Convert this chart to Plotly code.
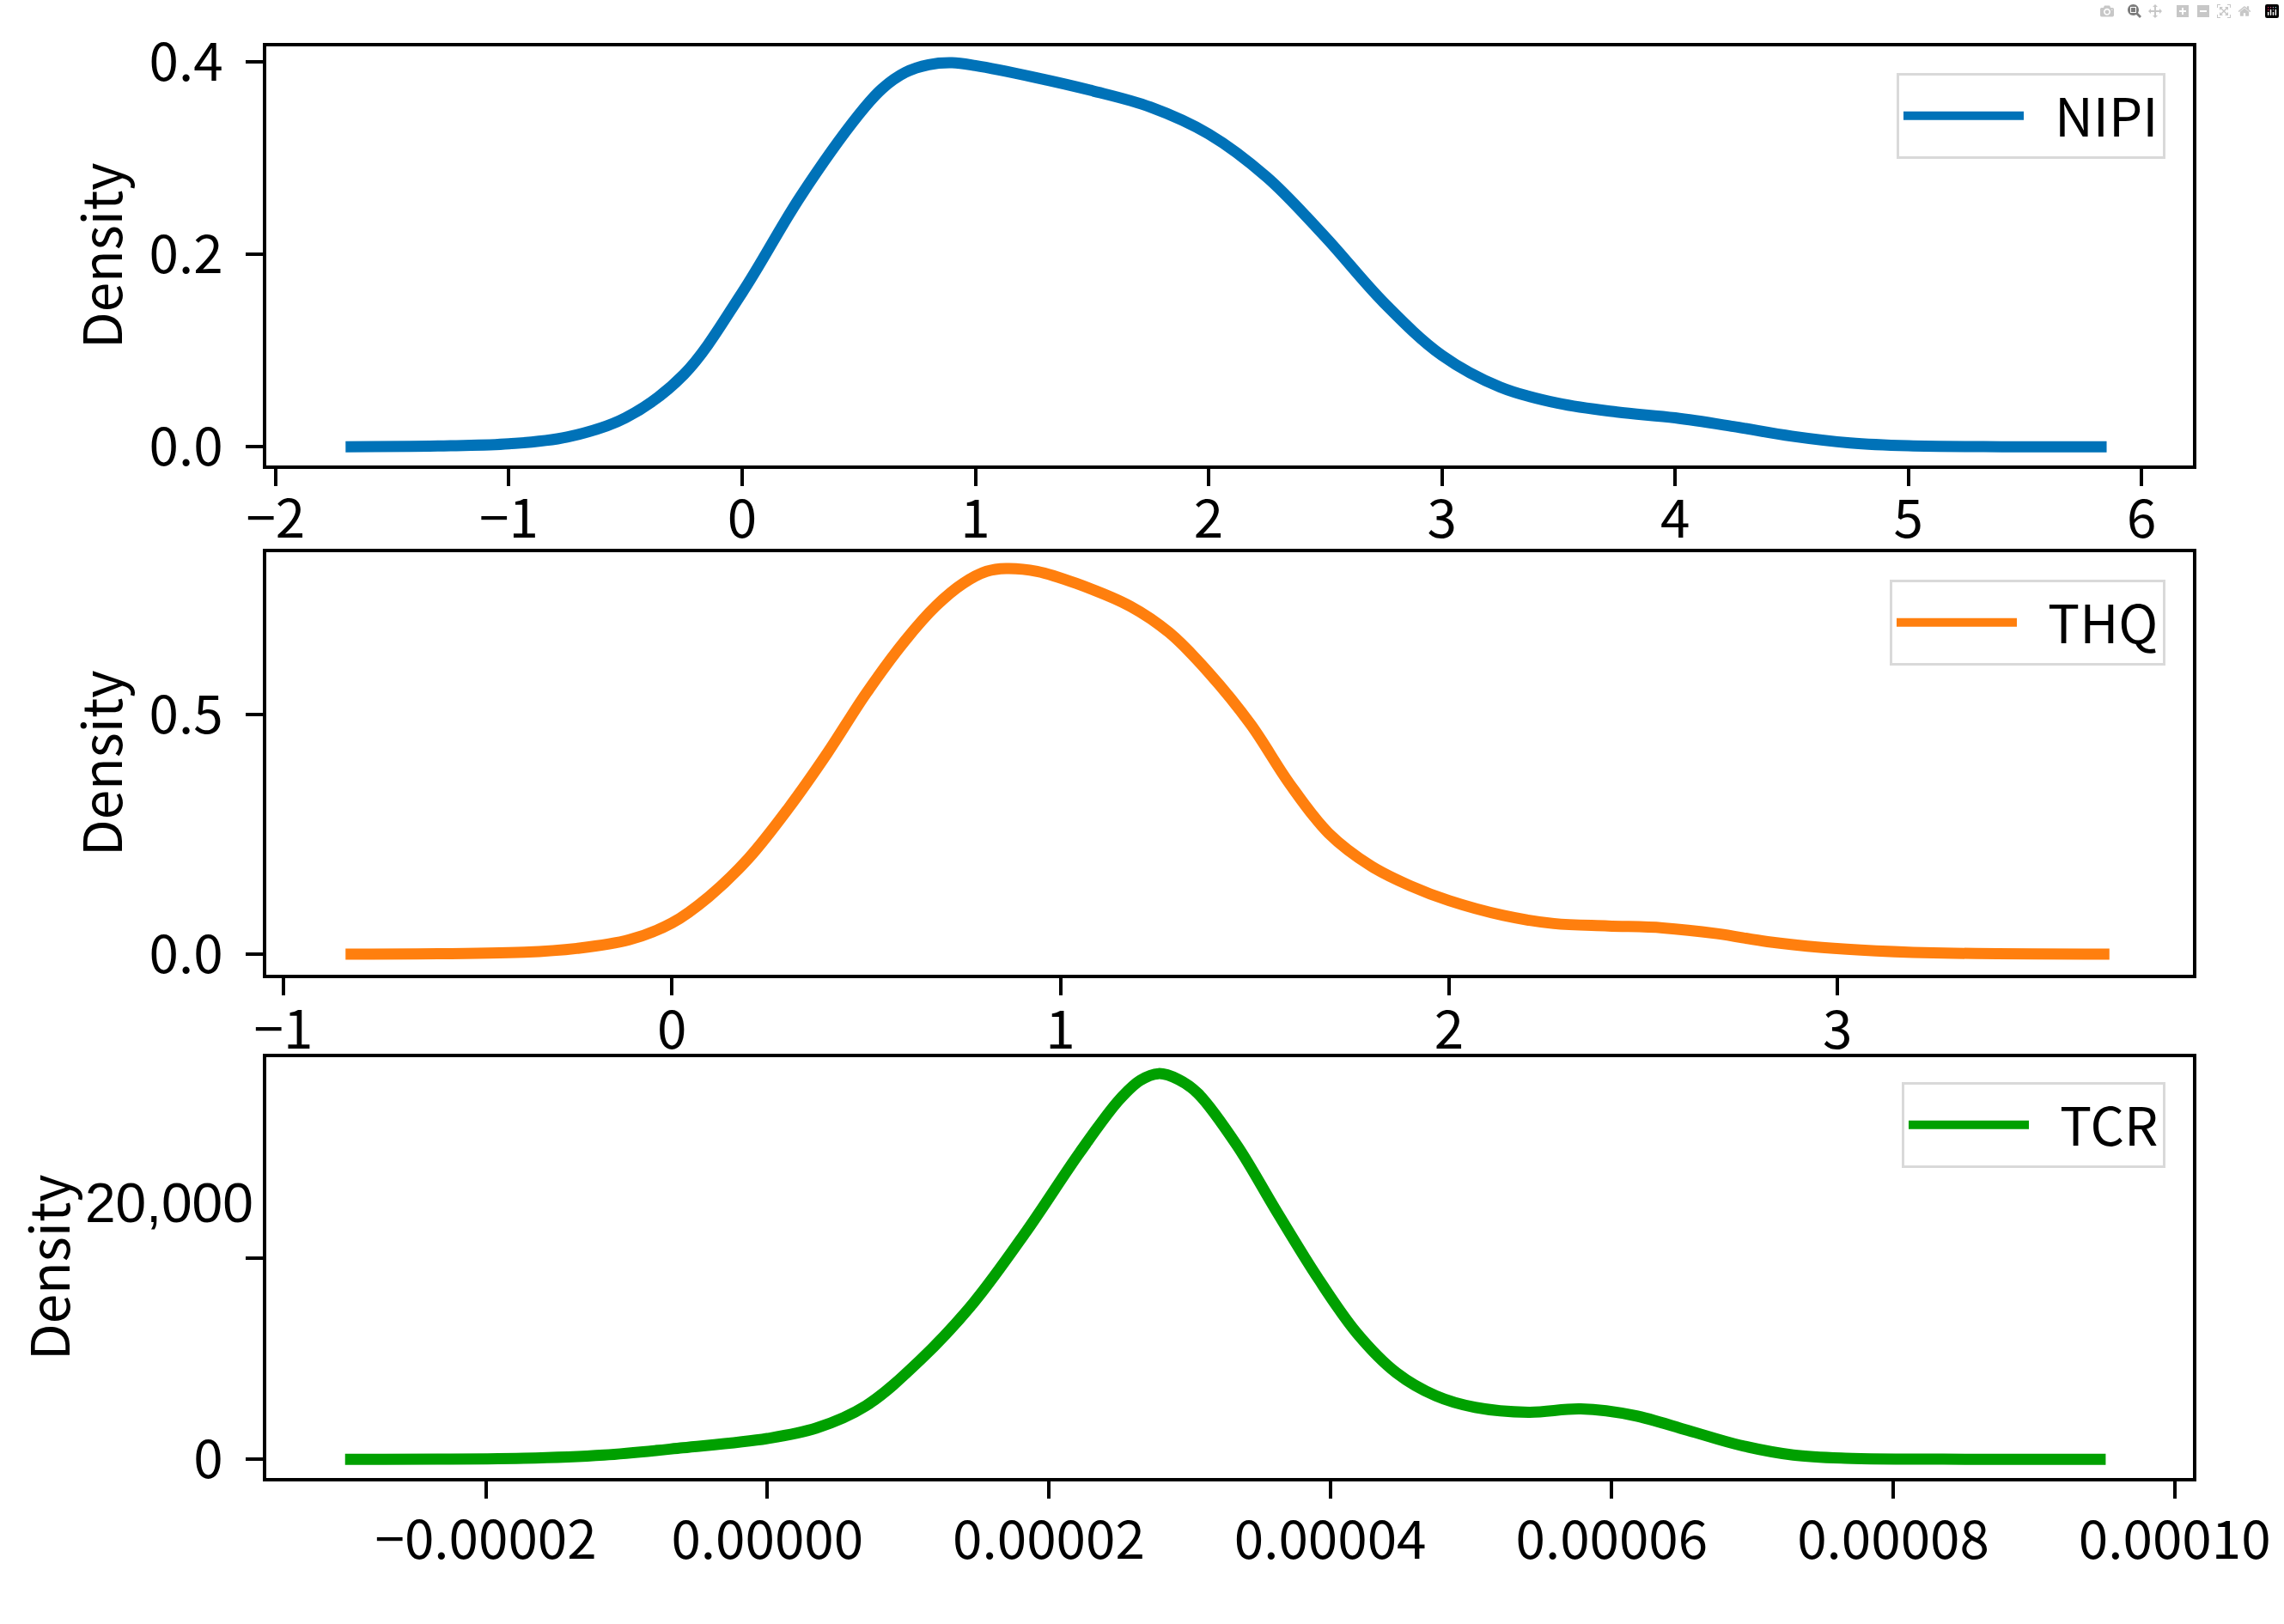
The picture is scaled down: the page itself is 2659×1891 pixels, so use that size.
import plotly.graph_objects as go

# kernel density curves
nipi_x = [-1.7, -1.25, -1.0, -0.75, -0.5, -0.25, 0.0, 0.25, 0.5, 0.6, 0.7, 0.8, 0.9, 1.0,
          1.25, 1.5, 1.75, 2.0, 2.25, 2.5, 2.75, 3.0, 3.25, 3.5, 3.75, 4.0, 4.25,
          4.5, 4.75, 5.0, 5.4, 5.85]
nipi_y = [0.0, 0.001, 0.003, 0.01, 0.03, 0.075, 0.16, 0.26, 0.345, 0.372, 0.389, 0.397, 0.399,
          0.396, 0.384, 0.37, 0.353, 0.325, 0.28, 0.218, 0.15, 0.095, 0.062, 0.045, 0.036,
          0.03, 0.021, 0.011, 0.004, 0.001, 0.0, 0.0]

thq_x = [-0.84, -0.38, -0.245, -0.11, 0.0, 0.095, 0.197, 0.3, 0.4, 0.5, 0.6, 0.68, 0.75,
         0.81, 0.86, 0.94, 1.04, 1.18, 1.28, 1.38, 1.49, 1.59, 1.69, 1.8, 1.9, 2.0, 2.14,
         2.27, 2.41, 2.55, 2.69, 2.82, 2.96, 3.1, 3.3, 3.7]
thq_y = [0.0, 0.004, 0.012, 0.03, 0.065, 0.12, 0.2, 0.305, 0.42, 0.545, 0.655, 0.728, 0.775,
         0.8, 0.806, 0.8, 0.775, 0.727, 0.672, 0.59, 0.48, 0.356, 0.253, 0.184, 0.143,
         0.112, 0.081, 0.064, 0.059, 0.055, 0.043, 0.026, 0.014, 0.007, 0.002, 0.0]

tcr_x = [-3.0e-5, -1.73e-5, -1.16e-5, -0.6e-5, 0.0, 0.35e-5, 0.7e-5, 1.09e-5, 1.46e-5,
         1.84e-5, 2.22e-5, 2.5e-5, 2.65e-5, 2.78e-5, 2.92e-5, 3.06e-5, 3.34e-5, 3.62e-5,
         3.91e-5, 4.19e-5, 4.47e-5, 4.75e-5, 5.03e-5, 5.41e-5, 5.78e-5, 6.16e-5, 6.54e-5,
         6.91e-5, 7.29e-5, 7.66e-5, 8.6e-5, 9.51e-5]
tcr_y = [0, 100, 420, 1140, 2060, 3100, 5300, 9890, 15430, 22600, 30440, 35660, 37600,
         38270, 37700, 36300, 31090, 24570, 18040, 12500, 8580, 6300, 5150, 4670, 4990,
         4340, 2870, 1400, 420, 100, 0, 0]

series = [
    ("NIPI", nipi_x, nipi_y, "#0072b8"),
    ("THQ", thq_x, thq_y, "#ff7f0e"),
    ("TCR", tcr_x, tcr_y, "#00a000"),
]

FONT = "SimHei, Noto Sans CJK SC, sans-serif"
W, H = 2659, 1891
x_dom = [310 / W, 2553 / W]
y_doms = [
    [1 - 542 / H, 1 - 54 / H],
    [1 - 1135 / H, 1 - 643 / H],
    [1 - 1721 / H, 1 - 1231 / H],
]
legend_tops = [1 - 85 / H, 1 - 675 / H, 1 - 1260 / H]

fig = go.Figure()

for i, (name, xs, ys, color) in enumerate(series):
    n = "" if i == 0 else str(i + 1)
    fig.add_trace(
        go.Scatter(
            x=xs,
            y=ys,
            mode="lines",
            name="\u2002" + name,
            line={"color": color, "width": 13, "shape": "spline", "smoothing": 1.0},
            xaxis="x" + n,
            yaxis="y" + n,
            legend="legend" + n,
            showlegend=True,
        )
    )

axis_common = {
    "showline": True,
    "linecolor": "black",
    "linewidth": 4,
    "mirror": True,
    "ticks": "outside",
    "ticklen": 20,
    "tickwidth": 4,
    "tickcolor": "black",
    "showgrid": False,
    "zeroline": False,
    "automargin": False,
    "tickfont": {"family": FONT, "size": 62, "color": "black"},
}

layout = {
    "width": W,
    "height": H,
    "margin": {"l": 0, "r": 0, "t": 0, "b": 0, "autoexpand": False},
    "showlegend": True,
    "paper_bgcolor": "white",
    "plot_bgcolor": "white",
    "font": {"family": FONT, "size": 62, "color": "black"},
    "xaxis": dict(axis_common, domain=x_dom, anchor="y", range=[-2.04, 6.22],
                  tickvals=[-2, -1, 0, 1, 2, 3, 4, 5, 6], ticklabelstandoff=-14),
    "yaxis": dict(axis_common, domain=y_doms[0], anchor="x", range=[-0.0195, 0.416],
                  tickvals=[0.0, 0.2, 0.4], tickformat=".1f", ticklabelstandoff=14),
    "xaxis2": dict(axis_common, domain=x_dom, anchor="y2", range=[-1.044, 3.915],
                   tickvals=[-1, 0, 1, 2, 3], ticklabelstandoff=-12),
    "yaxis2": dict(axis_common, domain=y_doms[1], anchor="x2", range=[-0.043, 0.84],
                   tickvals=[0.0, 0.5], tickformat=".1f", ticklabelstandoff=14),
    "xaxis3": dict(axis_common, domain=x_dom, anchor="y3", range=[-3.56e-5, 1.013e-4],
                   tickvals=[-2e-5, 0, 2e-5, 4e-5, 6e-5, 8e-5, 1e-4], tickformat=".5f",
                   ticklabelstandoff=-4),
    "yaxis3": dict(axis_common, domain=y_doms[2], anchor="x3", range=[-1860, 39900],
                   tickvals=[0, 20000], ticktext=["0", ""], ticklabelstandoff=14),
}

for i, top in enumerate(legend_tops):
    n = "" if i == 0 else str(i + 1)
    layout["legend" + n] = {
        "x": 2521 / W,
        "y": top,
        "xanchor": "right",
        "yanchor": "top",
        "bgcolor": "white",
        "bordercolor": "#d9d9d9",
        "borderwidth": 3,
        "itemwidth": 140,
        "font": {"family": FONT, "size": 62, "color": "black"},
    }

fig.update_layout(layout)

# y-axis titles
title_x = [115 / W, 115 / W, 54 / W]
for i, tx in enumerate(title_x):
    n = "" if i == 0 else str(i + 1)
    fig.add_annotation(
        text="Density",
        textangle=-90,
        xref="paper",
        yref="y" + n + " domain",
        x=tx,
        y=0.5,
        xanchor="center",
        yanchor="middle",
        showarrow=False,
        font={"family": FONT, "size": 62, "color": "black"},
    )

# the 20,000 label sits above its tick in the reference
fig.add_annotation(
    text="20,000",
    xref="paper",
    yref="paper",
    x=297 / W,
    y=1 - 1401 / H,
    xanchor="right",
    yanchor="middle",
    showarrow=False,
    font={"family": "Liberation Sans, Arial, sans-serif", "size": 64, "color": "black"},
)

fig.write_html("out.html", post_script="document.body.style.margin='0';")
